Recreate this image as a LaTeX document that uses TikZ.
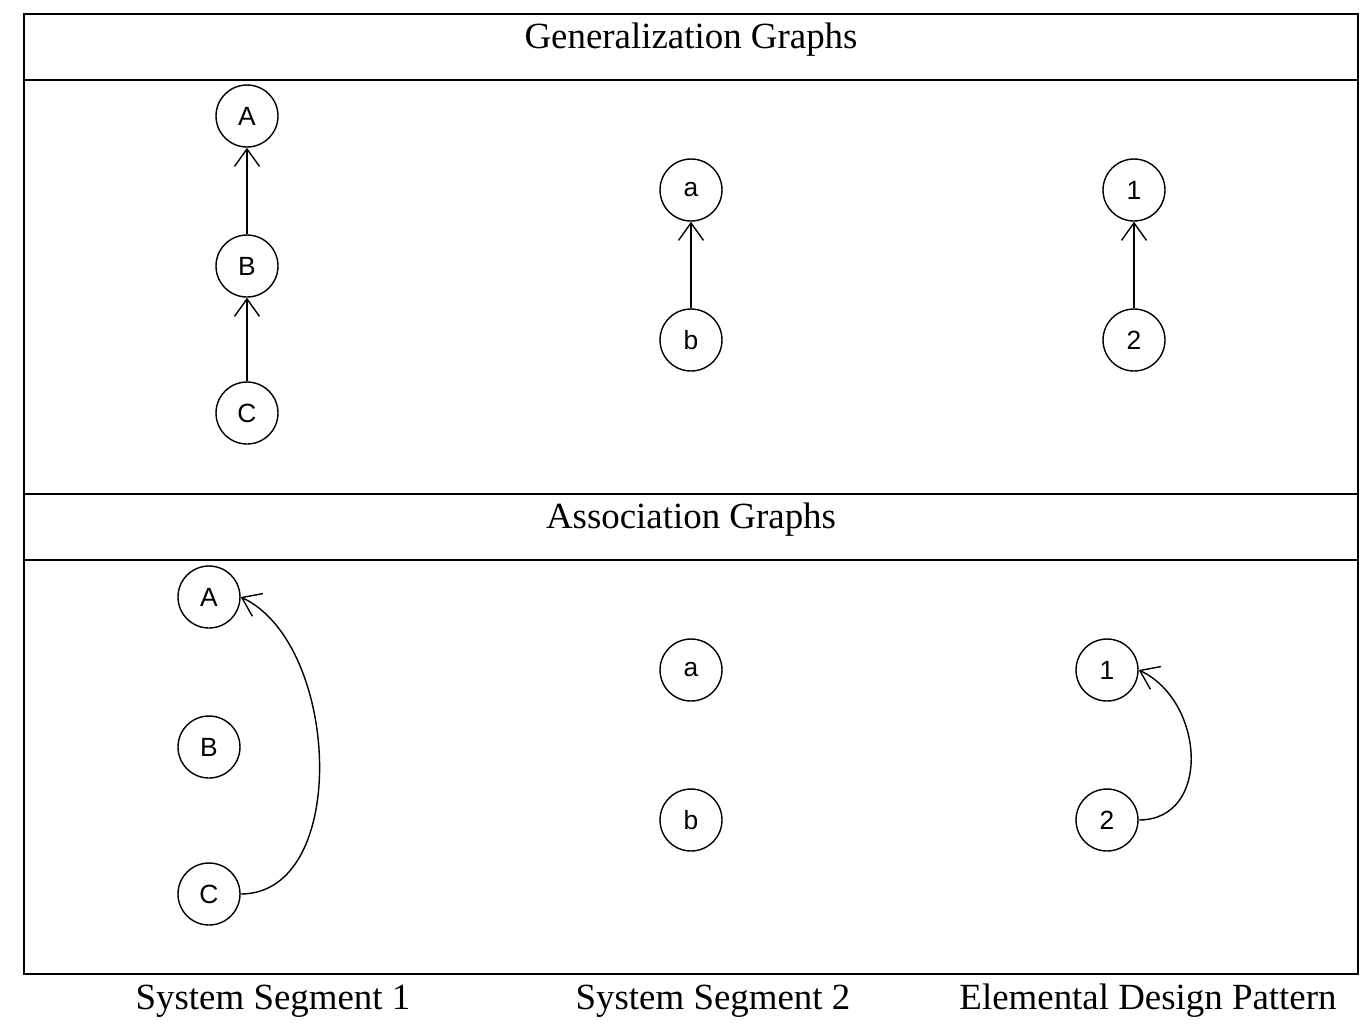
\documentclass[tikz,border=0pt]{standalone}
\usepackage{fontspec}
\setmainfont{Liberation Serif}
\newfontfamily\graphfont{Liberation Sans}
\usetikzlibrary{arrows.meta}

\begin{document}
\begin{tikzpicture}[x=0.02cm,y=-0.02cm,
	vertex/.style={circle,draw,thick,minimum size=1.24cm,inner sep=0pt,font=\graphfont\fontsize{15}{17}\selectfont},
	title/.style={font=\fontsize{21}{24}\selectfont},
	gen/.style={thick,-{Straight Barb[length=3.5mm,width=5mm]}}]
	\useasboundingbox (0,0) rectangle (1369,1029);
	
	\draw[thick] (24,14) rectangle (1358,974);			% frame
	\draw[thick] (24,80) -- (1358,80);
	\draw[thick] (24,494) -- (1358,494);
	\draw[thick] (24,560) -- (1358,560);
	\node[title] (tgen) at (691,40) {Generalization Graphs};
	\node[title] (tass) at (691,520) {Association Graphs};
	
	% generalization
	\node[vertex] (gA) at (247,116) {A};
	\node[vertex] (gB) at (247,266) {B};
	\node[vertex] (gC) at (247,413) {C};
	\node[vertex] (ga) at (691,190) {a};
	\node[vertex] (gb) at (691,340) {b};
	\node[vertex] (g1) at (1134,190) {1};
	\node[vertex] (g2) at (1134,340) {2};
	\draw[gen] (gB) -- (gA);
	\draw[gen] (gC) -- (gB);
	\draw[gen] (gb) -- (ga);
	\draw[gen] (g2) -- (g1);
	
	% association
	\node[vertex] (aA) at (209,597) {A};
	\node[vertex] (aB) at (209,747) {B};
	\node[vertex] (aC) at (209,894) {C};
	\node[vertex] (aa) at (691,670) {a};
	\node[vertex] (ab) at (691,820) {b};
	\node[vertex] (a1) at (1107,670) {1};
	\node[vertex] (a2) at (1107,820) {2};
	\draw[gen] (aC.east) to[out=0,in=-25,looseness=0.95] (aA.east);
	\draw[gen] (a2.east) to[out=0,in=-25,looseness=1.25] (a1.east);
	
	\node[title] (s1) at (273,1001) {System Segment 1};
	\node[title] (s2) at (713,1001) {System Segment 2};
	\node[title] (edp) at (1148,1001) {Elemental Design Pattern};
\end{tikzpicture}
\end{document}
